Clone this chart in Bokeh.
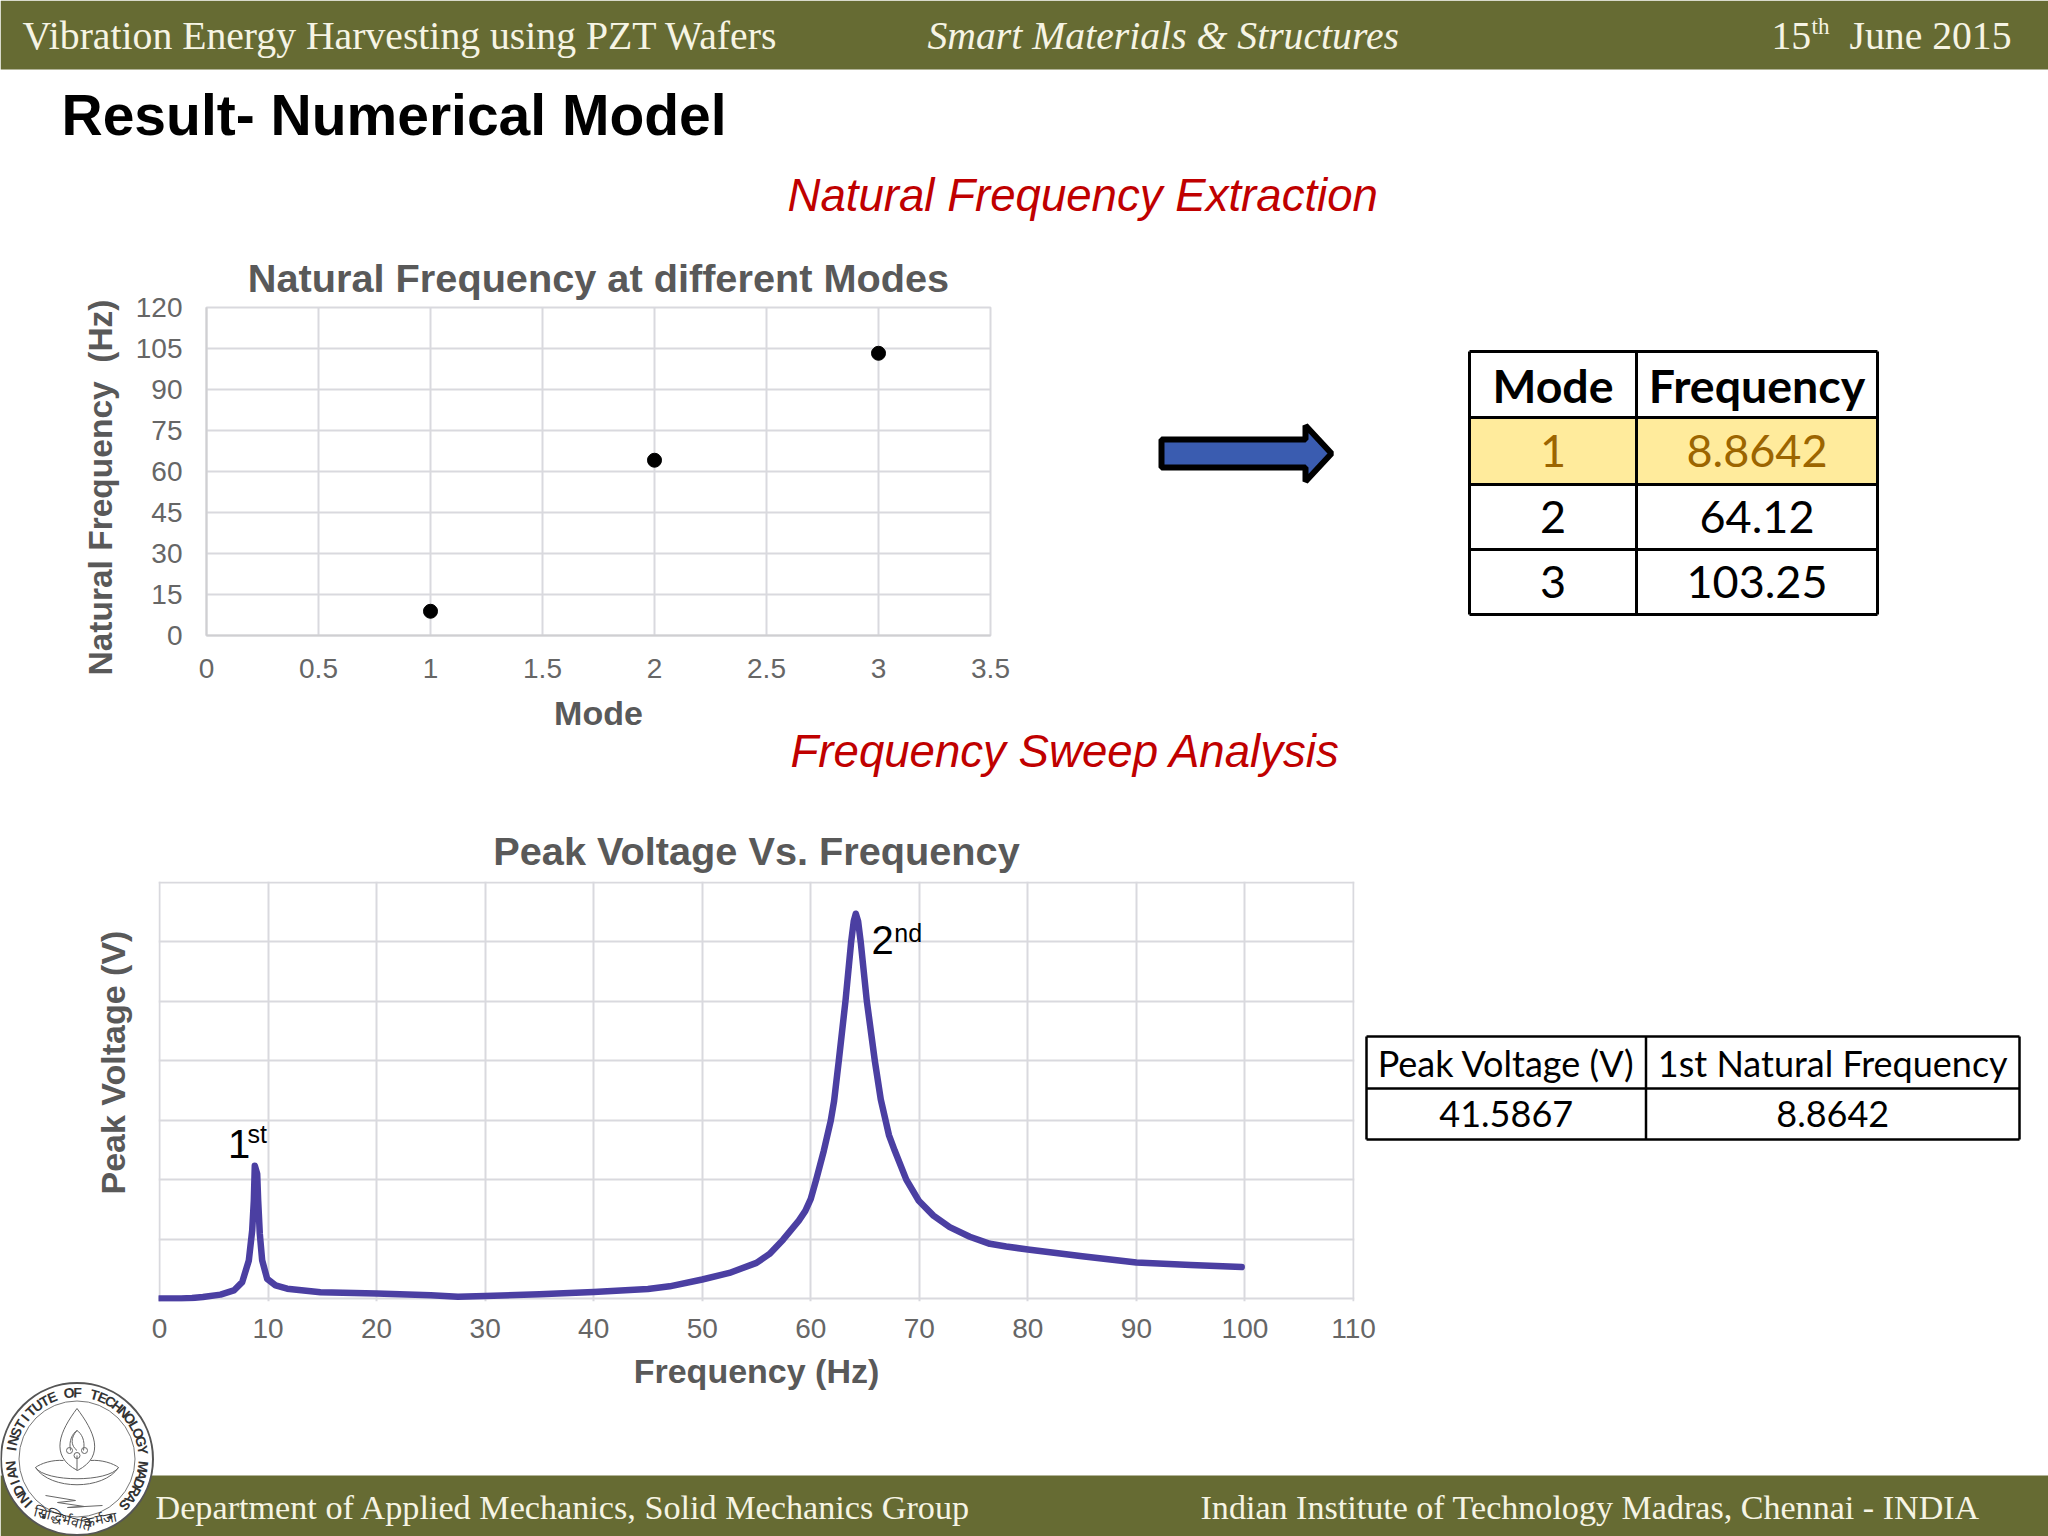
import math
from bokeh.embed import file_html
from bokeh.resources import INLINE
from bokeh.layouts import column, row
from bokeh.models import Label, Range1d, FixedTicker, Spacer, Title
from bokeh.plotting import figure

# ---------- data ----------
mode_numbers = [1, 2, 3]
mode_frequencies = [8.8642, 64.12, 103.25]
mode_x_ticks = [0, 0.5, 1, 1.5, 2, 2.5, 3, 3.5]
mode_x_tick_labels = ["0", "0.5", "1", "1.5", "2", "2.5", "3", "3.5"]
mode_y_ticks = [0, 15, 30, 45, 60, 75, 90, 105, 120]

sweep_freq = [0, 2, 3, 4, 5.62, 6.85, 7.62, 8.23, 8.54, 8.69, 8.78, 9.0, 9.09, 9.24, 9.46, 9.92, 10.69, 11.76, 14.83,
              20, 25, 27.5, 30, 35, 40, 45, 47, 50, 52.5, 55, 56.2, 57.45, 58.9, 59.5, 60.0, 60.5, 61.2, 61.84, 62.15,
              62.58, 63.2, 63.72, 63.96, 64.15, 64.36, 64.6, 65.16, 65.9, 66.45, 67.2, 67.74, 68.8, 69.95, 71.3,
              72.8, 74.65, 76.5, 78, 80, 85, 90, 95, 99.7]
sweep_volt = [0, 0, 0.2, 0.5, 1.3, 2.7, 5.5, 12.8, 22.9, 32.9, 44.7, 41.9, 32.9, 21.8, 12.8, 6.6, 4.4, 3.3, 2.1,
              1.7, 1.1, 0.6, 0.8, 1.45, 2.2, 3.2, 4.1, 6.4, 8.6, 12, 15, 19.8, 26.2, 29.5, 33.5, 40, 49.7, 59.8, 66.5,
              80, 100.2, 120, 127, 129.5, 127, 120, 100.2, 80, 67, 55, 49.7, 40, 32.9, 27.9,
              24, 20.8, 18.4, 17.5, 16.5, 14.2, 12.1, 11.3, 10.6]
sweep_x_ticks = list(range(0, 111, 10))
sweep_y_ticks = list(range(0, 141, 20))

table1_rows = [["Mode", "Frequency"], ["1", "8.8642"], ["2", "64.12"], ["3", "103.25"]]
table2_rows = [["Peak Voltage (V)", "1st Natural Frequency"], ["41.5867", "8.8642"]]

OLIVE = "#666B33"
CREAM = "#F6F4E4"
RED = "#C00000"
GREY = "#595959"
TICK = "#666666"
GRID = "#D9D9DE"
SERIF = "Liberation Serif"
SANS = "Liberation Sans"


def slide_fig(x0, x1, y0, y1, **kw):
    p = figure(width=x1 - x0, height=y1 - y0, x_range=Range1d(x0, x1), y_range=Range1d(y1, y0),
               output_backend="svg", toolbar_location=None, min_border=0, frame_align=False, **kw)
    p.xaxis.visible = False
    p.yaxis.visible = False
    p.grid.visible = False
    p.outline_line_color = None
    return p


def label(p, x, y, text, size, color="#000000", font=SANS, style="normal", align="left", baseline="middle"):
    p.add_layout(Label(x=x, y=y, text=text, text_font_size=f"{size}px", text_color=color,
                       text_font=font, text_font_style=style, text_align=align, text_baseline=baseline))


def table(p, xs, ys, rows, size, header_size, header_bold, line_w, highlight=None):
    if highlight is not None:
        p.quad(left=xs[0], right=xs[-1], top=ys[highlight], bottom=ys[highlight + 1], fill_color="#FFEB9C", line_color=None)
    for x in xs:
        p.segment(x, ys[0], x, ys[-1], line_color="#000000", line_width=line_w)
    for y in ys:
        p.segment(xs[0], y, xs[-1], y, line_color="#000000", line_width=line_w)
    for r, vals in enumerate(rows):
        for c, t in enumerate(vals):
            col = "#9C6500" if r == highlight else "#000000"
            st = "bold" if (header_bold and r == 0) else "normal"
            label(p, (xs[c] + xs[c + 1]) / 2, (ys[r] + ys[r + 1]) / 2, t, header_size if r == 0 else size, col, "Lato", st, "center")


def style_chart(p):
    p.outline_line_color = GRID
    p.outline_line_width = 2
    p.grid.grid_line_color = GRID
    p.grid.grid_line_width = 2
    for ax in (p.xaxis[0], p.yaxis[0]):
        ax.axis_line_color = "#CFCFD2"
        ax.axis_line_width = 2
        ax.major_tick_line_color = None
        ax.minor_tick_line_color = None
        ax.major_label_text_color = TICK
        ax.major_label_text_font = SANS
        ax.major_label_text_font_size = "28px"
        ax.axis_label_text_color = GREY
        ax.axis_label_text_font = SANS
        ax.axis_label_text_font_style = "bold"
    p.title.align = "center"
    p.title.text_color = GREY
    p.title.text_font = SANS
    p.title.text_font_style = "bold"


def side_title(p, text, size, offset, standoff):
    p.add_layout(Title(text=text, align="left", offset=offset, standoff=standoff, text_font_size=f"{size}px",
                       text_color=GREY, text_font=SANS, text_font_style="bold"), "left")


# ---------- top strip ----------
top = slide_fig(0, 2048, 0, 240)
top.quad(left=0, right=2048, top=0, bottom=69, fill_color=OLIVE, line_color=None)
label(top, 22, 35, "Vibration Energy Harvesting using PZT Wafers", 39.7, CREAM, SERIF)
label(top, 927, 35, "Smart Materials & Structures", 39.7, CREAM, SERIF, "italic")
label(top, 1771, 35, "15", 39.7, CREAM, SERIF)
label(top, 1811, 26, "th", 23, CREAM, SERIF)
label(top, 1849, 35, "June 2015", 39.7, CREAM, SERIF)
label(top, 61, 114, "Result- Numerical Model", 57, "#000000", SANS, "bold")
label(top, 787, 195, "Natural Frequency Extraction", 45.6, RED, SANS, "italic")

# ---------- chart 1 ----------
c1 = figure(width=1110, height=500, frame_width=784, frame_height=328,
            min_border_left=206, min_border_right=120, min_border_top=67, min_border_bottom=105,
            x_range=Range1d(0, 3.5), y_range=Range1d(0, 120), frame_align=False,
            title="Natural Frequency at different Modes",
            output_backend="svg", toolbar_location=None)
style_chart(c1)
c1.title.text_font_size = "39.7px"
c1.title.standoff = 16
c1.xaxis.ticker = FixedTicker(ticks=mode_x_ticks)
c1.xaxis.major_label_overrides = {float(t) if t % 1 else int(t): s for t, s in zip(mode_x_ticks, mode_x_tick_labels)}
c1.yaxis.ticker = FixedTicker(ticks=mode_y_ticks)
c1.xgrid.ticker = FixedTicker(ticks=mode_x_ticks)
c1.ygrid.ticker = FixedTicker(ticks=mode_y_ticks)
c1.xaxis.major_label_standoff = 17
c1.yaxis.major_label_standoff = 18
c1.xaxis.axis_label = "Mode"
c1.xaxis.axis_label_text_font_size = "34px"
c1.xaxis.axis_label_standoff = 13
c1.scatter(mode_numbers, mode_frequencies, size=14, marker="circle", fill_color="#000000", line_color="#000000")
side_title(c1, "Natural Frequency \u00a0(Hz)", 33.5, -40, 27)

# ---------- arrow + table 1 ----------
side1 = slide_fig(1110, 2048, 240, 740)
side1.patch([1161, 1305, 1305, 1331, 1305, 1305, 1161], [439, 439, 425, 453, 481, 467, 467],
            fill_color="#3A5CB0", line_color="#000000", line_width=6)
table(side1, [1469, 1636, 1877], [351, 417, 484, 549, 614], table1_rows, 45, 46.5, True, 3, highlight=1)

# ---------- heading 2 (overlaps the blank bottom border of the row above) ----------
mid = slide_fig(0, 2048, 722, 800, margin=(-18, 0, 0, 0))
mid.background_fill_alpha = 0
mid.border_fill_alpha = 0
label(mid, 790, 751, "Frequency Sweep Analysis", 45.6, RED, SANS, "italic")

# ---------- chart 2 ----------
c2 = figure(width=1376, height=600, frame_width=1196, frame_height=420,
            min_border_left=158, min_border_right=22, min_border_top=81, min_border_bottom=99,
            x_range=Range1d(-0.0921, 110.0921), y_range=Range1d(-1.0096, 140.3365), frame_align=False,
            title="Peak Voltage Vs. Frequency",
            output_backend="svg", toolbar_location=None)
style_chart(c2)
c2.outline_line_color = None
c2.xaxis.axis_line_color = None
c2.title.text_font_size = "39.7px"
c2.title.standoff = 18
c2.xaxis.ticker = FixedTicker(ticks=sweep_x_ticks)
c2.xgrid.ticker = FixedTicker(ticks=sweep_x_ticks)
c2.yaxis.ticker = FixedTicker(ticks=sweep_y_ticks)
c2.ygrid.ticker = FixedTicker(ticks=sweep_y_ticks)
c2.yaxis.visible = False
c2.xaxis.major_label_standoff = 11
c2.xaxis.axis_label = "Frequency (Hz)"
c2.xaxis.axis_label_text_font_size = "34px"
c2.xaxis.axis_label_standoff = 11
c2.line(sweep_freq, sweep_volt, line_color="#4B3FA2", line_width=6.5, line_join="round", line_cap="round")
label(c2, 6.3, 52, "1", 40, "#000000")
label(c2, 8.1, 55.5, "st", 25, "#000000")
label(c2, 65.6, 120.5, "2", 40, "#000000")
label(c2, 67.7, 123, "nd", 25, "#000000")
side_title(c2, "Peak Voltage (V)", 34, 107, 54)

# ---------- table 2 (overlaps the chart's blank right border a little) ----------
t2 = slide_fig(1360, 2048, 1000, 1180)
t2.background_fill_alpha = 0
t2.border_fill_alpha = 0
table(t2, [1366, 1645.5, 2019], [1036, 1088, 1139], table2_rows, 36, 36, False, 2.5)
side2 = column(Spacer(width=688, height=200), t2, Spacer(width=688, height=220), spacing=0, margin=(0, 0, 0, -16))

# ---------- footer with logo ----------
foot = slide_fig(0, 2048, 1380, 1536, margin=(-20, 0, 0, 0))
foot.background_fill_alpha = 0
foot.border_fill_alpha = 0
foot.quad(left=0, right=2048, top=1475, bottom=1536, fill_color=OLIVE, line_color=None)
label(foot, 155, 1507, "Department of Applied Mechanics, Solid Mechanics Group", 34.2, CREAM, SERIF)
label(foot, 1200, 1507, "Indian Institute of Technology Madras, Chennai - INDIA", 34.1, CREAM, SERIF)

cx, cy = 76.5, 1458.5
foot.circle(x=[cx], y=[cy], radius=76, fill_color="#FFFFFF", line_color="#555555", line_width=2)
foot.circle(x=[cx], y=[cy], radius=58, fill_color=None, line_color="#777777", line_width=1)
ring_text = "INDIAN INSTITUTE OF TECHNOLOGY MADRAS"
th = [math.radians(-133 + i * 267 / (len(ring_text) - 1)) for i in range(len(ring_text))]
foot.text(x=[cx + 66.5 * math.sin(t) for t in th], y=[cy - 66.5 * math.cos(t) for t in th], text=list(ring_text),
          angle=[-t for t in th], text_font_size="14px", text_font={"value": SANS}, text_font_style="bold", text_color="#333333",
          text_align="center", text_baseline="middle")
foot.text(x=[62, 100], y=[1518, 1519], text=["सिद्धिर्भवति", "कर्मजा"], angle=[-0.25, 0.2],
          text_font_size="14px", text_color="#333333", text_align="center", text_baseline="middle")
for t in (-150, 150):
    foot.scatter([cx + 67 * math.sin(math.radians(t))], [cy - 67 * math.cos(math.radians(t))], size=3,
                 marker="circle", color="#333333")
LC = "#666666"
# flame
foot.bezier(x0=[76.5, 76.5], y0=[1408, 1408], x1=[77, 77], y1=[1470, 1470],
            cx0=[60, 93], cy0=[1430, 1430], cx1=[48, 106], cy1=[1455, 1455], line_color=LC, line_width=1)
# bowl rim and body
foot.bezier(x0=[35, 35, 35, 118], y0=[1467, 1467, 1467, 1467], x1=[118, 118, 63, 90], y1=[1467, 1467, 1460, 1460],
            cx0=[50, 45, 40, 113], cy0=[1490, 1482, 1463, 1463], cx1=[103, 108, 52, 101], cy1=[1490, 1482, 1459, 1459],
            line_color=LC, line_width=1)
# lotus
foot.line([76.5, 76.5], [1455, 1470], line_color=LC, line_width=1)
foot.bezier(x0=[70, 83, 76.5], y0=[1450, 1450, 1430], x1=[76.5, 76.5, 76.5], y1=[1430, 1430, 1450],
            cx0=[68, 85, 70], cy0=[1440, 1440, 1437], cx1=[72, 81, 70], cy1=[1433, 1433, 1445], line_color=LC, line_width=1)
foot.scatter([69, 84, 76.5], [1450, 1450, 1455], size=6, marker="circle", fill_color=None, line_color=LC, line_width=1)
# lightning
foot.line([45, 75, 57, 84, 67, 102], [1495, 1500, 1502, 1506, 1507, 1505], line_color=LC, line_width=1)

layout = column(
    top,
    row(c1, side1, spacing=0),
    mid,
    row(c2, side2, spacing=0),
    foot,
    spacing=0,
)
open("out.html", "w").write(file_html(layout, INLINE))
